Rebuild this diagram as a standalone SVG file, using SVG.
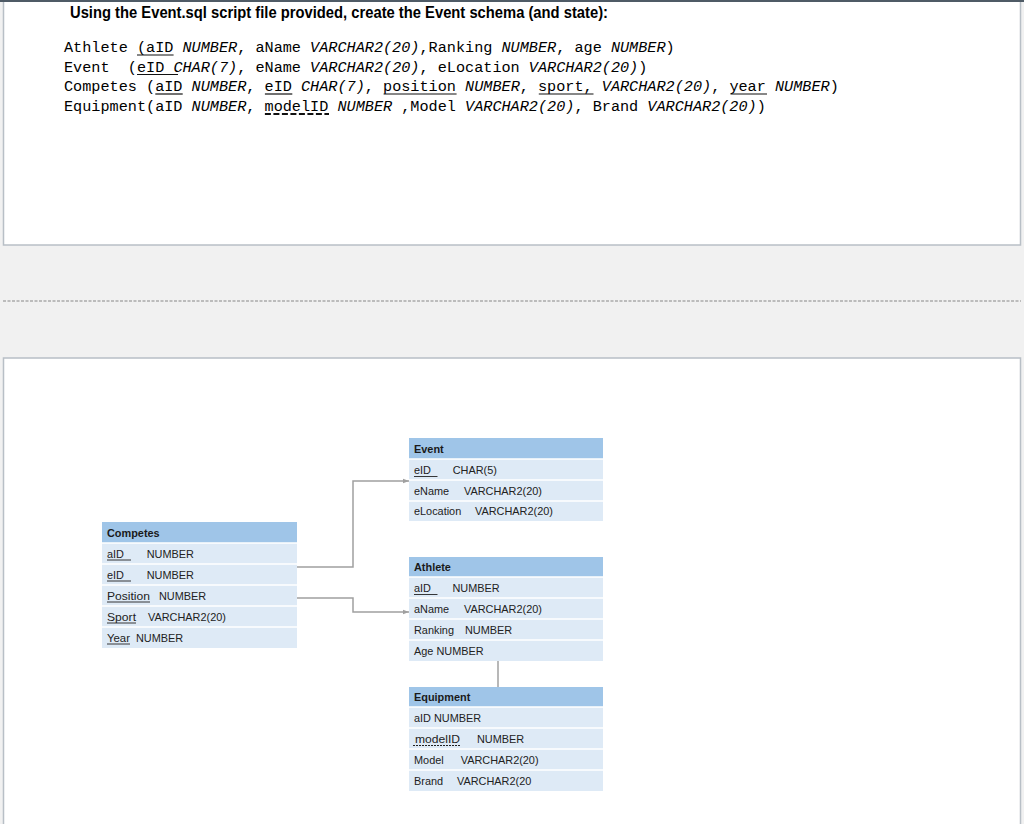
<svg xmlns="http://www.w3.org/2000/svg" width="1024" height="824" viewBox="0 0 1024 824">
<defs>
<style>
.code{font-family:"Liberation Mono","DejaVu Sans Mono",monospace;font-size:15.2px;fill:#000;}
.it{font-style:italic;}
.title{font-family:"Liberation Sans","Open Sans",sans-serif;font-size:17px;font-weight:bold;fill:#000;}
.hdr{fill:#9fc5e8;}
.row{fill:#deeaf6;}
.sep{stroke:#ffffff;stroke-width:1.5;}
.th{font-family:"Liberation Sans","Open Sans",sans-serif;font-size:10.9px;font-weight:bold;fill:#1a1a1a;}
.td{font-family:"Liberation Sans","Open Sans",sans-serif;font-size:10.9px;fill:#222;}
.ul{stroke:#222;stroke-width:0.9;}
.cul{stroke:#111;stroke-width:1.2;}
.conn{fill:none;stroke:#a0a0a0;stroke-width:1.5;}
</style>
<marker id="arr" markerUnits="userSpaceOnUse" markerWidth="6" markerHeight="6" refX="6" refY="3" orient="auto">
<path d="M0,0.8 L6,3 L0,5.2 z" fill="#a0a0a0"/>
</marker>
</defs>

<!-- backgrounds -->
<rect x="0" y="0" width="1024" height="824" fill="#f1f1f1"/>
<rect x="3.5" y="1" width="1017" height="244" fill="#ffffff" stroke="#b8bfc6" stroke-width="1.5"/>
<line x1="0" y1="1" x2="1024" y2="1" stroke="#4f5b66" stroke-width="2"/>
<line x1="3" y1="301" x2="1021" y2="301" stroke="#aaaaaa" stroke-width="1.5" stroke-dasharray="3,1.5"/>
<rect x="3.5" y="358" width="1017" height="470" fill="#ffffff" stroke="#b8bfc6" stroke-width="1.5"/>

<!-- header text -->
<text class="title" x="70" y="18" textLength="538" lengthAdjust="spacingAndGlyphs">Using the Event.sql script file provided, create the Event schema (and state):</text>

<g id="schema-text">
<text class="code" x="64" y="52" xml:space="preserve">Athlete (aID <tspan class="it">NUMBER</tspan>, aName <tspan class="it">VARCHAR2(20)</tspan>,Ranking <tspan class="it">NUMBER</tspan>, age <tspan class="it">NUMBER</tspan>)</text>
<text class="code" x="64" y="71.5" xml:space="preserve">Event  (eID <tspan class="it">CHAR(7)</tspan>, eName <tspan class="it">VARCHAR2(20)</tspan>, eLocation <tspan class="it">VARCHAR2(20)</tspan>)</text>
<text class="code" x="64" y="91" xml:space="preserve">Competes (aID <tspan class="it">NUMBER</tspan>, eID <tspan class="it">CHAR(7)</tspan>, position <tspan class="it">NUMBER</tspan>, sport, <tspan class="it">VARCHAR2(20)</tspan>, year <tspan class="it">NUMBER</tspan>)</text>
<text class="code" x="64" y="110.5" xml:space="preserve">Equipment(aID <tspan class="it">NUMBER</tspan>, modelID <tspan class="it">NUMBER</tspan> ,Model <tspan class="it">VARCHAR2(20)</tspan>, Brand <tspan class="it">VARCHAR2(20)</tspan>)</text>
<line class="cul" x1="137" y1="55" x2="173.6" y2="55"/>
<line class="cul" x1="137" y1="74.5" x2="178" y2="74.5"/>
<line class="cul" x1="155.3" y1="94" x2="182.7" y2="94"/>
<line class="cul" x1="264.9" y1="94" x2="292.3" y2="94"/>
<line class="cul" x1="383.6" y1="94" x2="456.6" y2="94"/>
<line class="cul" x1="538.8" y1="94" x2="593.5" y2="94"/>
<line class="cul" x1="730.5" y1="94" x2="767" y2="94"/>
<line x1="264.9" y1="114" x2="329" y2="114" stroke="#111" stroke-width="2" stroke-dasharray="6,2.5"/>
</g>

<!-- connectors -->
<g id="connectors">
<path class="conn" d="M297,567 H353 V481 H409" marker-end="url(#arr)"/>
<path class="conn" d="M297,598 H353 V612 H409" marker-end="url(#arr)"/>
<path class="conn" d="M498,661 V687"/>
</g>

<!-- Competes -->
<g id="competes">
<rect class="hdr" x="102" y="522" width="195" height="21"/>
<rect class="row" x="102" y="543" width="195" height="105"/>
<line class="sep" x1="102" y1="543" x2="297" y2="543"/>
<line class="sep" x1="102" y1="564" x2="297" y2="564"/>
<line class="sep" x1="102" y1="585" x2="297" y2="585"/>
<line class="sep" x1="102" y1="606" x2="297" y2="606"/>
<line class="sep" x1="102" y1="627" x2="297" y2="627"/>
<text class="th" x="107" y="537">Competes</text>
<text class="td" x="107" y="557.5">aID</text><text class="td" x="146.7" y="557.5">NUMBER</text>
<text class="td" x="107" y="578.5">eID</text><text class="td" x="146.7" y="578.5">NUMBER</text>
<text class="td" x="107" y="599.5" textLength="43" lengthAdjust="spacingAndGlyphs">Position</text><text class="td" x="159" y="599.5">NUMBER</text>
<text class="td" x="107" y="620.5" textLength="29" lengthAdjust="spacingAndGlyphs">Sport</text><text class="td" x="148" y="620.5">VARCHAR2(20)</text>
<text class="td" x="107" y="641.5" textLength="23" lengthAdjust="spacingAndGlyphs">Year</text><text class="td" x="136" y="641.5">NUMBER</text>
<line class="ul" x1="107" y1="560" x2="131" y2="560"/>
<line class="ul" x1="107" y1="581" x2="131" y2="581"/>
<line class="ul" x1="107" y1="602" x2="150" y2="602"/>
<line class="ul" x1="107" y1="623" x2="136" y2="623"/>
<line class="ul" x1="107" y1="644" x2="130" y2="644"/>
</g>

<!-- Event -->
<g id="event">
<rect class="hdr" x="409" y="438" width="194" height="21"/>
<rect class="row" x="409" y="459" width="194" height="62"/>
<line class="sep" x1="409" y1="459" x2="603" y2="459"/>
<line class="sep" x1="409" y1="480" x2="603" y2="480"/>
<line class="sep" x1="409" y1="501" x2="603" y2="501"/>
<text class="th" x="414" y="452.5">Event</text>
<text class="td" x="414" y="473.5">eID</text><text class="td" x="452.7" y="473.5">CHAR(5)</text>
<text class="td" x="414" y="494.5">eName</text><text class="td" x="464" y="494.5">VARCHAR2(20)</text>
<text class="td" x="414" y="515">eLocation</text><text class="td" x="475" y="515">VARCHAR2(20)</text>
<line class="ul" x1="414" y1="476.5" x2="437.5" y2="476.5"/>
</g>

<!-- Athlete -->
<g id="athlete">
<rect class="hdr" x="409" y="557" width="194" height="20"/>
<rect class="row" x="409" y="577" width="194" height="84"/>
<line class="sep" x1="409" y1="577" x2="603" y2="577"/>
<line class="sep" x1="409" y1="598" x2="603" y2="598"/>
<line class="sep" x1="409" y1="619" x2="603" y2="619"/>
<line class="sep" x1="409" y1="640" x2="603" y2="640"/>
<text class="th" x="414" y="571">Athlete</text>
<text class="td" x="414" y="591.5">aID</text><text class="td" x="452.5" y="591.5">NUMBER</text>
<text class="td" x="414" y="612.5">aName</text><text class="td" x="464" y="612.5">VARCHAR2(20)</text>
<text class="td" x="414" y="633.5">Ranking</text><text class="td" x="465" y="633.5">NUMBER</text>
<text class="td" x="414" y="654.5">Age NUMBER</text>
<line class="ul" x1="414" y1="594.5" x2="437.5" y2="594.5"/>
</g>

<!-- Equipment -->
<g id="equipment">
<rect class="hdr" x="409" y="687" width="194" height="20"/>
<rect class="row" x="409" y="707" width="194" height="84"/>
<line class="sep" x1="409" y1="707" x2="603" y2="707"/>
<line class="sep" x1="409" y1="728" x2="603" y2="728"/>
<line class="sep" x1="409" y1="749" x2="603" y2="749"/>
<line class="sep" x1="409" y1="770" x2="603" y2="770"/>
<text class="th" x="414" y="701">Equipment</text>
<text class="td" x="414" y="721.5">aID NUMBER</text>
<text class="td" x="415" y="742.5" textLength="45" lengthAdjust="spacingAndGlyphs">modelID</text><text class="td" x="477" y="742.5">NUMBER</text>
<text class="td" x="414" y="763.5">Model</text><text class="td" x="460.7" y="763.5">VARCHAR2(20)</text>
<text class="td" x="414" y="784.5">Brand</text><text class="td" x="457" y="784.5">VARCHAR2(20</text>
<line x1="413" y1="745.5" x2="461" y2="745.5" stroke="#222" stroke-width="1" stroke-dasharray="2,1"/>
</g>
</svg>
